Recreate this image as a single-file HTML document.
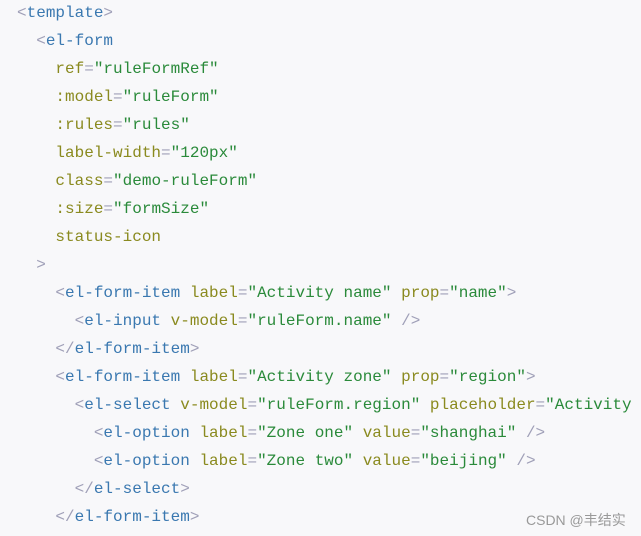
<!DOCTYPE html>
<html><head><meta charset="utf-8"><style>
html,body{margin:0;padding:0;background:#f8f8fa;}
body{width:641px;height:536px;overflow:hidden;position:relative;}
pre{margin:0;position:absolute;left:17px;top:-1px;font-family:"Liberation Mono",monospace;font-size:16px;line-height:28px;color:#4a4a4a;white-space:pre;}
.p{color:#a0a0b8}.t{color:#3a78b0}.a{color:#8a8a1f}.s{color:#2a8a3a}.e{color:#a0a0b8}
.wm{position:absolute;left:526px;top:510px;font-family:"Liberation Sans","Noto Sans CJK SC",sans-serif;font-size:14px;color:#999;}
</style></head><body>
<pre><span class="p">&lt;</span><span class="t">template</span><span class="p">&gt;</span>
  <span class="p">&lt;</span><span class="t">el-form</span>
    <span class="a">ref</span><span class="e">=</span><span class="s">"ruleFormRef"</span>
    <span class="a">:model</span><span class="e">=</span><span class="s">"ruleForm"</span>
    <span class="a">:rules</span><span class="e">=</span><span class="s">"rules"</span>
    <span class="a">label-width</span><span class="e">=</span><span class="s">"120px"</span>
    <span class="a">class</span><span class="e">=</span><span class="s">"demo-ruleForm"</span>
    <span class="a">:size</span><span class="e">=</span><span class="s">"formSize"</span>
    <span class="a">status-icon</span>
  <span class="p">&gt;</span>
    <span class="p">&lt;</span><span class="t">el-form-item</span> <span class="a">label</span><span class="e">=</span><span class="s">"Activity name"</span> <span class="a">prop</span><span class="e">=</span><span class="s">"name"</span><span class="p">&gt;</span>
      <span class="p">&lt;</span><span class="t">el-input</span> <span class="a">v-model</span><span class="e">=</span><span class="s">"ruleForm.name"</span> <span class="p">/&gt;</span>
    <span class="p">&lt;/</span><span class="t">el-form-item</span><span class="p">&gt;</span>
    <span class="p">&lt;</span><span class="t">el-form-item</span> <span class="a">label</span><span class="e">=</span><span class="s">"Activity zone"</span> <span class="a">prop</span><span class="e">=</span><span class="s">"region"</span><span class="p">&gt;</span>
      <span class="p">&lt;</span><span class="t">el-select</span> <span class="a">v-model</span><span class="e">=</span><span class="s">"ruleForm.region"</span> <span class="a">placeholder</span><span class="e">=</span><span class="s">"Activity</span>
        <span class="p">&lt;</span><span class="t">el-option</span> <span class="a">label</span><span class="e">=</span><span class="s">"Zone one"</span> <span class="a">value</span><span class="e">=</span><span class="s">"shanghai"</span> <span class="p">/&gt;</span>
        <span class="p">&lt;</span><span class="t">el-option</span> <span class="a">label</span><span class="e">=</span><span class="s">"Zone two"</span> <span class="a">value</span><span class="e">=</span><span class="s">"beijing"</span> <span class="p">/&gt;</span>
      <span class="p">&lt;/</span><span class="t">el-select</span><span class="p">&gt;</span>
    <span class="p">&lt;/</span><span class="t">el-form-item</span><span class="p">&gt;</span></pre>
<div class="wm">CSDN @丰结实</div>
</body></html>
